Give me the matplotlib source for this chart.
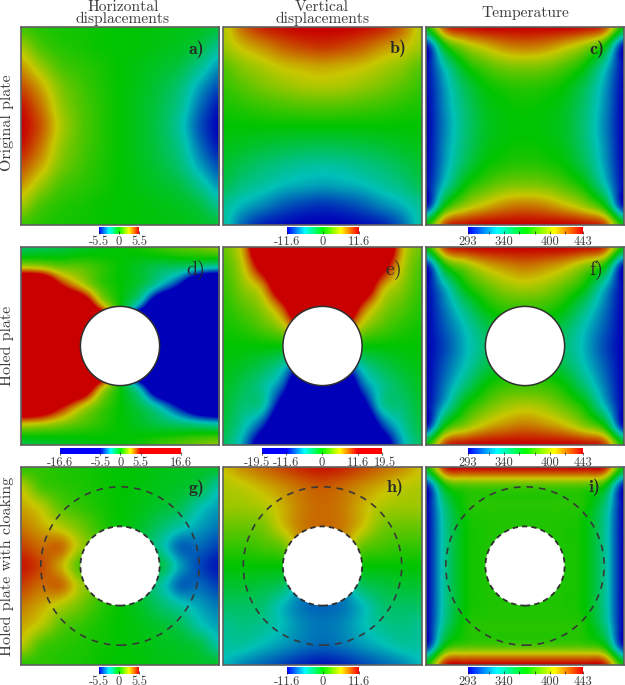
import numpy as np
import matplotlib
matplotlib.use("Agg")
import matplotlib.pyplot as plt
from matplotlib.colors import LinearSegmentedColormap
from matplotlib.patches import Circle
from matplotlib.transforms import ScaledTranslation

plt.rcParams["font.family"] = ["cmr10", "DejaVu Serif"]
plt.rcParams["axes.unicode_minus"] = False
plt.rcParams["axes.formatter.use_mathtext"] = True

W, H = 625, 685

# field values, rows top to bottom, x = -1 ... 1 in steps of 0.2
u_original = np.array([
    [0.8, 0.5, 0.3, 0.2, 0.1, 0, -0.1, -0.2, -0.3, -0.5, -0.8],
    [2.2, 1.0, 0.5, 0.3, 0.1, 0, -0.1, -0.3, -0.5, -1.0, -2.2],
    [3.4, 2.1, 1.0, 0.6, 0.3, 0, -0.3, -0.6, -1.0, -2.1, -3.4],
    [4.4, 3.2, 1.7, 0.9, 0.4, 0, -0.4, -0.9, -1.7, -3.2, -4.4],
    [5.2, 3.9, 2.1, 1.1, 0.5, 0, -0.5, -1.1, -2.1, -3.9, -5.2],
    [5.5, 4.3, 2.4, 1.2, 0.5, 0, -0.5, -1.2, -2.4, -4.3, -5.5],
    [5.2, 3.9, 2.1, 1.1, 0.5, 0, -0.5, -1.1, -2.1, -3.9, -5.2],
    [4.4, 3.2, 1.7, 0.9, 0.4, 0, -0.4, -0.9, -1.7, -3.2, -4.4],
    [3.4, 2.1, 1.0, 0.6, 0.3, 0, -0.3, -0.6, -1.0, -2.1, -3.4],
    [2.2, 1.0, 0.5, 0.3, 0.1, 0, -0.1, -0.3, -0.5, -1.0, -2.2],
    [0.8, 0.5, 0.3, 0.2, 0.1, 0, -0.1, -0.2, -0.3, -0.5, -0.8],
])
v_original = np.array([
    [5, 8.5, 10.5, 11.2, 11.6, 11.6, 11.6, 11.2, 10.5, 8.5, 5],
    [4.5, 6.2, 7.5, 8.8, 9.6, 10, 9.6, 8.8, 7.5, 6.2, 4.5],
    [2.5, 4, 5, 6, 6.5, 6.8, 6.5, 6, 5, 4, 2.5],
    [1.5, 2.5, 3.5, 4.2, 4.8, 5, 4.8, 4.2, 3.5, 2.5, 1.5],
    [0.7, 1.1, 1.6, 2, 2.3, 2.4, 2.3, 2, 1.6, 1.1, 0.7],
    [0, 0, 0, 0, 0, 0, 0, 0, 0, 0, 0],
    [-0.7, -1.1, -1.6, -2, -2.3, -2.4, -2.3, -2, -1.6, -1.1, -0.7],
    [-1.5, -2.5, -3.5, -4.2, -4.8, -5, -4.8, -4.2, -3.5, -2.5, -1.5],
    [-2.5, -4, -5, -6, -6.5, -6.8, -6.5, -6, -5, -4, -2.5],
    [-4.5, -6.2, -7.5, -8.8, -9.6, -10, -9.6, -8.8, -7.5, -6.2, -4.5],
    [-5, -8.5, -10.5, -11.2, -11.6, -11.6, -11.6, -11.2, -10.5, -8.5, -5],
])
t_original = np.array([
    [368, 430, 440, 443, 443, 443, 443, 443, 440, 430, 368],
    [295, 368, 395, 408, 417, 420, 417, 408, 395, 368, 295],
    [295, 335, 368, 382, 390, 392, 390, 382, 368, 335, 295],
    [294, 325, 352, 368, 374, 376, 374, 368, 352, 325, 294],
    [293, 322, 346, 362, 368, 370, 368, 362, 346, 322, 293],
    [293, 320, 344, 360, 366, 368, 366, 360, 344, 320, 293],
    [293, 322, 346, 362, 368, 370, 368, 362, 346, 322, 293],
    [294, 325, 352, 368, 374, 376, 374, 368, 352, 325, 294],
    [295, 335, 368, 382, 390, 392, 390, 382, 368, 335, 295],
    [295, 368, 395, 408, 417, 420, 417, 408, 395, 368, 295],
    [368, 430, 440, 443, 443, 443, 443, 443, 440, 430, 368],
])
u_holed = np.array([
    [-1.5, -1.2, -1, -0.6, -0.3, 0, 0.3, 0.8, 1.2, 1.5, 2],
    [2.5, 2.2, 1.4, 1.2, 0.6, 0, -0.6, -1.2, -1.4, -2.0, -2.5],
    [12, 11, 6, 3.2, 1.0, 0, -1.0, -3.2, -6, -11, -12],
    [14, 14, 13, 10, 4, 0, -4, -10, -13, -14, -14],
    [15, 15, 15, 15, 14, 0, -14, -15, -15, -15, -15],
    [16, 16, 16, 16, 16, 0, -16, -16, -16, -16, -16],
    [15, 15, 15, 15, 14, 0, -14, -15, -15, -15, -15],
    [13, 13, 12, 10, 4, 0, -4, -10, -12, -13, -13],
    [10, 9, 6, 3.2, 1.2, 0, -1.2, -3.2, -6, -9, -10],
    [2.5, 2.2, 1.6, 1, 0.5, 0, -0.5, -1, -1.4, -1.8, -2.2],
    [-1, -0.8, -0.6, -0.4, -0.2, 0, 0.3, 0.8, 1.2, 1.6, 2],
])
v_holed = np.array([
    [3, 7, 20, 25, 25, 25, 25, 25, 20, 7, 3],
    [2, 5.5, 14, 22, 25, 25, 25, 22, 14, 5.5, 2],
    [1.5, 4, 7.5, 18, 24, 25, 24, 18, 7.5, 4, 1.5],
    [1, 2.5, 4.5, 10, 22, 25, 22, 10, 4.5, 2.5, 1],
    [0.5, 1.2, 2.5, 5, 12, 20, 12, 5, 2.5, 1.2, 0.5],
    [0, 0, 0, 0, 0, 0, 0, 0, 0, 0, 0],
    [-0.5, -1.2, -2.5, -5, -12, -20, -12, -5, -2.5, -1.2, -0.5],
    [-1, -2.5, -4.5, -9, -20, -25, -20, -9, -4.5, -2.5, -1],
    [-1.5, -3.5, -5, -14, -22, -25, -22, -14, -5, -3.5, -1.5],
    [-2, -5, -10, -20, -25, -25, -25, -20, -10, -5, -2],
    [-3, -7, -16, -25, -25, -25, -25, -25, -16, -7, -3],
])
t_holed = np.array([
    [368, 432, 441, 443, 443, 443, 443, 443, 441, 432, 368],
    [294, 368, 392, 408, 416, 420, 416, 408, 392, 368, 294],
    [293, 330, 368, 385, 396, 400, 396, 385, 368, 330, 293],
    [293, 318, 345, 368, 378, 380, 378, 368, 345, 318, 293],
    [293, 312, 332, 352, 365, 370, 365, 352, 332, 312, 293],
    [293, 308, 328, 345, 360, 365, 360, 345, 328, 308, 293],
    [293, 312, 332, 352, 365, 370, 365, 352, 332, 312, 293],
    [293, 318, 345, 368, 378, 380, 378, 368, 345, 318, 293],
    [293, 330, 368, 385, 396, 400, 396, 385, 368, 330, 293],
    [294, 368, 392, 408, 416, 420, 416, 408, 392, 368, 294],
    [368, 432, 441, 443, 443, 443, 443, 443, 441, 432, 368],
])
u_cloak = np.array([
    [0.5, 0.6, 0.4, 0.3, 0.1, 0, -0.1, -0.3, -0.4, -0.6, -0.5],
    [2.5, 1.0, 0.6, 0.4, 0.2, 0, -0.2, -0.4, -0.6, -1.0, -2.5],
    [3.2, 2.5, 1.2, 0.7, 0.3, 0, -0.3, -0.7, -1.2, -2.5, -3.2],
    [3.8, 3.2, 2.4, 1.5, 0.6, 0, -0.6, -1.5, -2.4, -3.2, -3.8],
    [4.6, 4.0, 4.0, 2.2, 1.0, 0, -1.0, -2.2, -4.0, -4.0, -4.6],
    [5.2, 4.5, 3.2, 1.0, 0.5, 0, -0.5, -1.0, -3.2, -4.5, -5.2],
    [4.6, 4.0, 4.0, 2.2, 1.0, 0, -1.0, -2.2, -4.0, -4.0, -4.6],
    [3.8, 3.2, 2.4, 1.5, 0.6, 0, -0.6, -1.5, -2.4, -3.2, -3.8],
    [3.2, 2.5, 1.2, 0.7, 0.3, 0, -0.3, -0.7, -1.2, -2.5, -3.2],
    [2.5, 1.0, 0.6, 0.4, 0.2, 0, -0.2, -0.4, -0.6, -1.0, -2.5],
    [0.5, 0.6, 0.4, 0.3, 0.1, 0, -0.1, -0.3, -0.4, -0.6, -0.5],
])
v_cloak = np.array([
    [6, 7.5, 8.5, 9.5, 10.5, 11, 10.5, 9.5, 8.5, 7.5, 6],
    [5, 5.5, 6.5, 7.5, 8.5, 9, 8.5, 7.5, 6.5, 5.5, 5],
    [4.5, 4.5, 5, 6.5, 8, 8.5, 8, 6.5, 5, 4.5, 4.5],
    [3, 3, 3.5, 6, 8, 8.5, 8, 6, 3.5, 3, 3],
    [1.5, 1.5, 2, 3, 7, 8, 7, 3, 2, 1.5, 1.5],
    [0, 0, 0, 0, 0, 0, 0, 0, 0, 0, 0],
    [-1.5, -1.5, -2, -3, -7, -8, -7, -3, -2, -1.5, -1.5],
    [-3, -3, -3.5, -6, -8, -8.5, -8, -6, -3.5, -3, -3],
    [-4.5, -4, -4.5, -6, -7.5, -8, -7.5, -6, -4.5, -4, -4.5],
    [-5, -5, -6, -7, -8, -8.5, -8, -7, -6, -5, -5],
    [-6, -7.5, -8.5, -9.5, -10.5, -11, -10.5, -9.5, -8.5, -7.5, -6],
])
t_cloak = np.array([
    [368, 438, 443, 443, 443, 443, 443, 443, 443, 438, 368],
    [296, 368, 380, 381, 381, 381, 381, 381, 380, 368, 296],
    [293, 345, 372, 375, 375, 375, 375, 375, 372, 345, 293],
    [293, 340, 368, 373, 374, 374, 374, 373, 368, 340, 293],
    [293, 340, 368, 373, 374, 374, 374, 373, 368, 340, 293],
    [293, 340, 368, 373, 374, 374, 374, 373, 368, 340, 293],
    [293, 340, 368, 373, 374, 374, 374, 373, 368, 340, 293],
    [293, 340, 368, 373, 374, 374, 374, 373, 368, 340, 293],
    [293, 345, 372, 375, 375, 375, 375, 375, 372, 345, 293],
    [296, 368, 380, 381, 381, 381, 381, 381, 380, 368, 296],
    [368, 438, 443, 443, 443, 443, 443, 443, 443, 438, 368],
])

panel_labels = ["a)", "b)", "c)", "d)", "e)", "f)", "g)", "h)", "i)"]
column_titles = ["Horizontal\ndisplacements", "Vertical\ndisplacements", "Temperature"]
row_titles = ["Original plate", "Holed plate", "Holed plate with cloaking"]

fields = [u_original, v_original, t_original,
          u_holed, v_holed, t_holed,
          u_cloak, v_cloak, t_cloak]
field_ranges = [(-5.5, 5.5), (-11.6, 11.6), (293, 443)] * 3

# colour bar range and ticks of each plate
bar_ranges = [(-5.5, 5.5), (-11.6, 11.6), (293, 443),
              (-16.6, 16.6), (-19.5, 19.5), (293, 443),
              (-5.5, 5.5), (-11.6, 11.6), (293, 443)]
u_ticks = [-5.5, 0, 5.5]
v_ticks = [-11.6, 0, 11.6]
t_ticks = [293, 340, 400, 443]
u_ticks_holed = [-16.6, -5.5, 0, 5.5, 16.6]
v_ticks_holed = [-19.5, -11.6, 0, 11.6, 19.5]
t_minor = [320, 360, 380, 420]
bar_ticks = [u_ticks, v_ticks, t_ticks,
             u_ticks_holed, v_ticks_holed, t_ticks,
             u_ticks, v_ticks, t_ticks]

# bright colours on the bars, the plates are rendered darker
stops = ["#0000ff", "#00ffff", "#00ff00", "#ffff00", "#ff0000"]
stops_plate = ["#0000b8", "#00c0b8", "#00c400", "#c8c800", "#c80000"]
cmap_bar = LinearSegmentedColormap.from_list("bar", stops)
cmap_plate = LinearSegmentedColormap.from_list("plate", stops_plate)

col_x = [21, 223.5, 426]
row_y = [27, 247, 467]
size = 198
bar_x = [(99, 139), (287, 359), (468, 583),
         (60, 181), (262, 382), (468, 583),
         (99, 139), (287, 359), (468, 583)]
bar_y = [227, 447.5, 667]
label_xy = [(196, 49), (398, 48), (597, 49),
            (196, 270), (394, 270), (596, 270),
            (197, 488), (395, 487), (595, 487)]
label_fonts = ["cmb10", "cmb10", "cmb10", "cmr10", "cmr10", "cmr10", "cmb10", "cmb10", "cmb10"]
label_sizes = [13, 13, 13, 14.5, 14.5, 14.5, 13, 13, 13]


def add_px_axes(fig, x0, y0, x1, y1):
    return fig.add_axes([x0 / W, 1 - y1 / H, (x1 - x0) / W, (y1 - y0) / H])


fig = plt.figure(figsize=(W / 100, H / 100), dpi=100)
text_col = "#3c3c3c"

for i in range(9):
    row, col = i // 3, i % 3
    x0, y0 = col_x[col], row_y[row]
    ax = add_px_axes(fig, x0, y0, x0 + size, y0 + size)
    lo, hi = field_ranges[i]
    ax.imshow(fields[i], cmap=cmap_plate, vmin=lo, vmax=hi, extent=(-1.1, 1.1, -1.1, 1.1),
              interpolation="catrom", aspect="auto")
    ax.set_xlim(-1, 1)
    ax.set_ylim(-1, 1)
    ax.set_xticks([])
    ax.set_yticks([])
    for s in ax.spines.values():
        s.set_color("#606060")
        s.set_linewidth(1.2)

    if row == 1:
        ax.add_patch(Circle((0, 0), 0.4, fc="white", ec="#303030", lw=1.1))
    if row == 2:
        ax.add_patch(Circle((0, 0), 0.4, fc="white", ec="#303030", lw=1.3, ls=(0, (3, 2.2))))
        ax.add_patch(Circle((0, 0), 0.8, fc="none", ec="#383838", lw=1.2, ls=(0, (4, 3.6))))

    # colour bar
    bx0, bx1 = bar_x[i]
    by = bar_y[row]
    bar = add_px_axes(fig, bx0, by, bx1, by + 7)
    blo, bhi = bar_ranges[i]
    grad = np.linspace(blo, bhi, 256).reshape(1, -1)
    bar.imshow(grad, cmap=cmap_bar, vmin=lo, vmax=hi, extent=(blo, bhi, 0, 1), aspect="auto")
    bar.set_yticks([])
    bar.set_xticks(bar_ticks[i])
    labels = bar.set_xticklabels([str(t) for t in bar_ticks[i]], fontsize=9, color=text_col)
    if col == 2:
        bar.set_xticks(t_minor, minor=True)
        bar.tick_params(axis="x", which="minor", direction="in", length=2, width=0.5, color="#202020")
    bar.tick_params(axis="x", which="major", direction="in", length=2, width=0.5, color="#202020",
                    pad=1.0 if row == 2 else 1.5)
    if i == 4:
        # the two outer labels of e) sit off their ticks
        labels[0].set_transform(labels[0].get_transform() + ScaledTranslation(-0.05, 0, fig.dpi_scale_trans))
        labels[4].set_transform(labels[4].get_transform() + ScaledTranslation(0.03, 0, fig.dpi_scale_trans))
    for s in bar.spines.values():
        s.set_visible(False)

    lx, ly = label_xy[i]
    fig.text(lx / W, 1 - ly / H, panel_labels[i], ha="center", va="center", fontsize=label_sizes[i],
             family=[label_fonts[i], "DejaVu Serif"], color="#282828")

title_x = [123, 322, 525]
title_y = [13, 13, 13]
for x, y, t in zip(title_x, title_y, column_titles):
    fig.text(x / W, 1 - y / H, t, ha="center", va="center", fontsize=11.2, color=text_col,
             linespacing=0.8)

row_center = [123, 346, 566]
for y, t in zip(row_center, row_titles):
    fig.text(7 / W, 1 - y / H, t, ha="center", va="center", rotation=90, fontsize=11.5,
             color=text_col)

fig.savefig("out.png", dpi=100)
